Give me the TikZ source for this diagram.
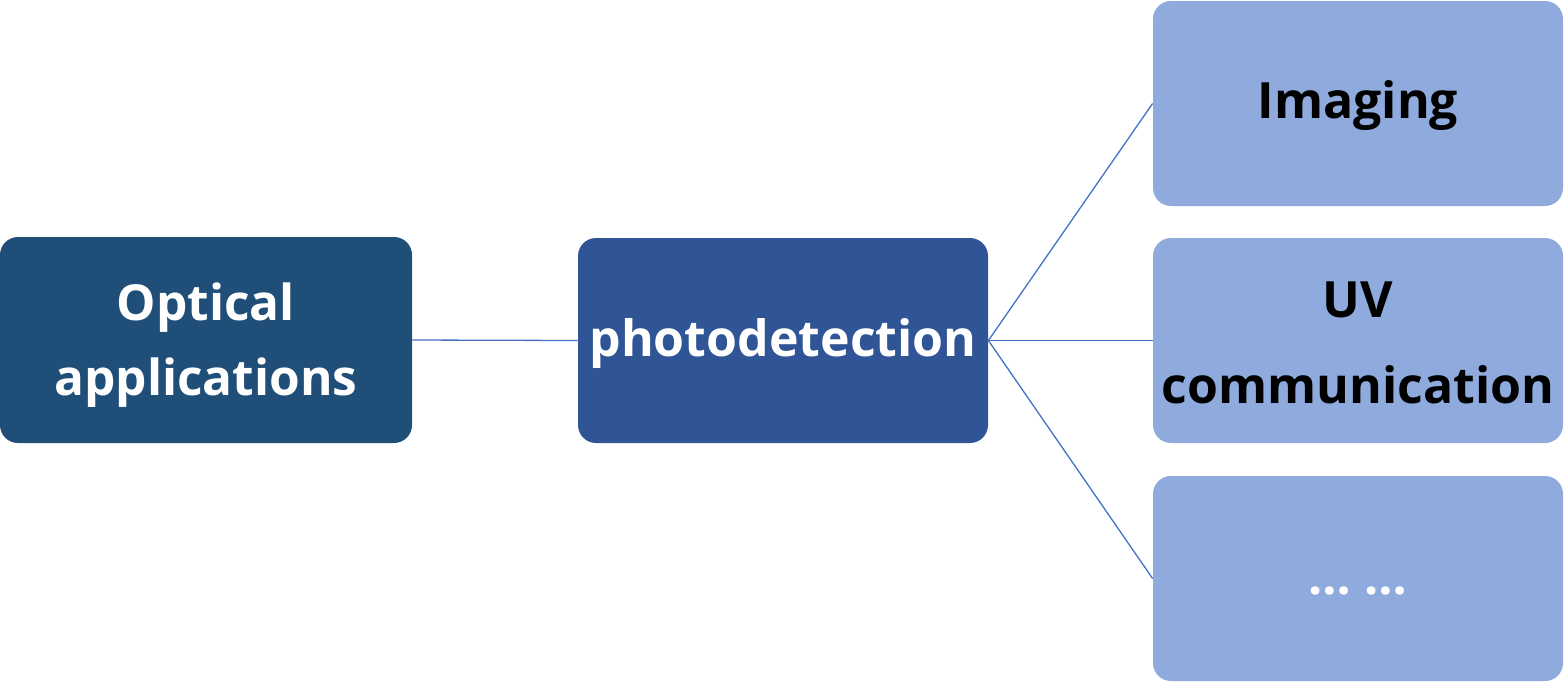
\documentclass[tikz,border=0pt]{standalone}
\usepackage{fontspec}
\setmainfont{Open Sans}
\definecolor{darkbox}{HTML}{1F4E79}
\definecolor{midbox}{HTML}{2F5597}
\definecolor{lightbox}{HTML}{8FAADC}
\definecolor{linkcol}{HTML}{4472C4}
\newcommand{\lowertext}[2]{\raisebox{-#1}[\height][\depth]{#2}}
\begin{document}
\begin{tikzpicture}[x=0.5pt,y=-0.5pt,
  box/.style={rounded corners=9pt, minimum width=205pt, minimum height=102.5pt,
    align=center, inner sep=0pt},
  darkstyle/.style={box, fill=darkbox, text=white, font=\bfseries\fontsize{24.8}{37.5}\selectfont},
  midstyle/.style={box, fill=midbox, text=white, font=\bfseries\fontsize{25}{43}\selectfont},
  lightstyle/.style={box, fill=lightbox, text=black, font=\bfseries\fontsize{25}{43}\selectfont},
  link/.style={draw=linkcol, line width=0.65pt}]
\useasboundingbox (0,0) rectangle (1564,682);
\node[darkstyle, minimum width=206pt, minimum height=103pt] (opt) at (206,340) {\lowertext{2.5pt}{\parbox{200pt}{\centering Optical\\applications}}};
\node[midstyle] (photo) at (783,340.5) {\lowertext{1.5pt}{photodetection}};
\node[lightstyle] (img) at (1358,103.5) {\lowertext{1pt}{Imaging}};
\node[lightstyle] (uv) at (1358,340.5) {\lowertext{1pt}{\parbox{205pt}{\centering UV\\communication}}};
\node[lightstyle, text=white] (etc) at (1358,578.5) {\lowertext{6pt}{… …}};
\draw[link] (opt.east) -- (photo.west);
\draw[link] (photo.east) -- (img.west);
\draw[link] (photo.east) -- (uv.west);
\draw[link] (photo.east) -- (etc.west);
\end{tikzpicture}
\end{document}
